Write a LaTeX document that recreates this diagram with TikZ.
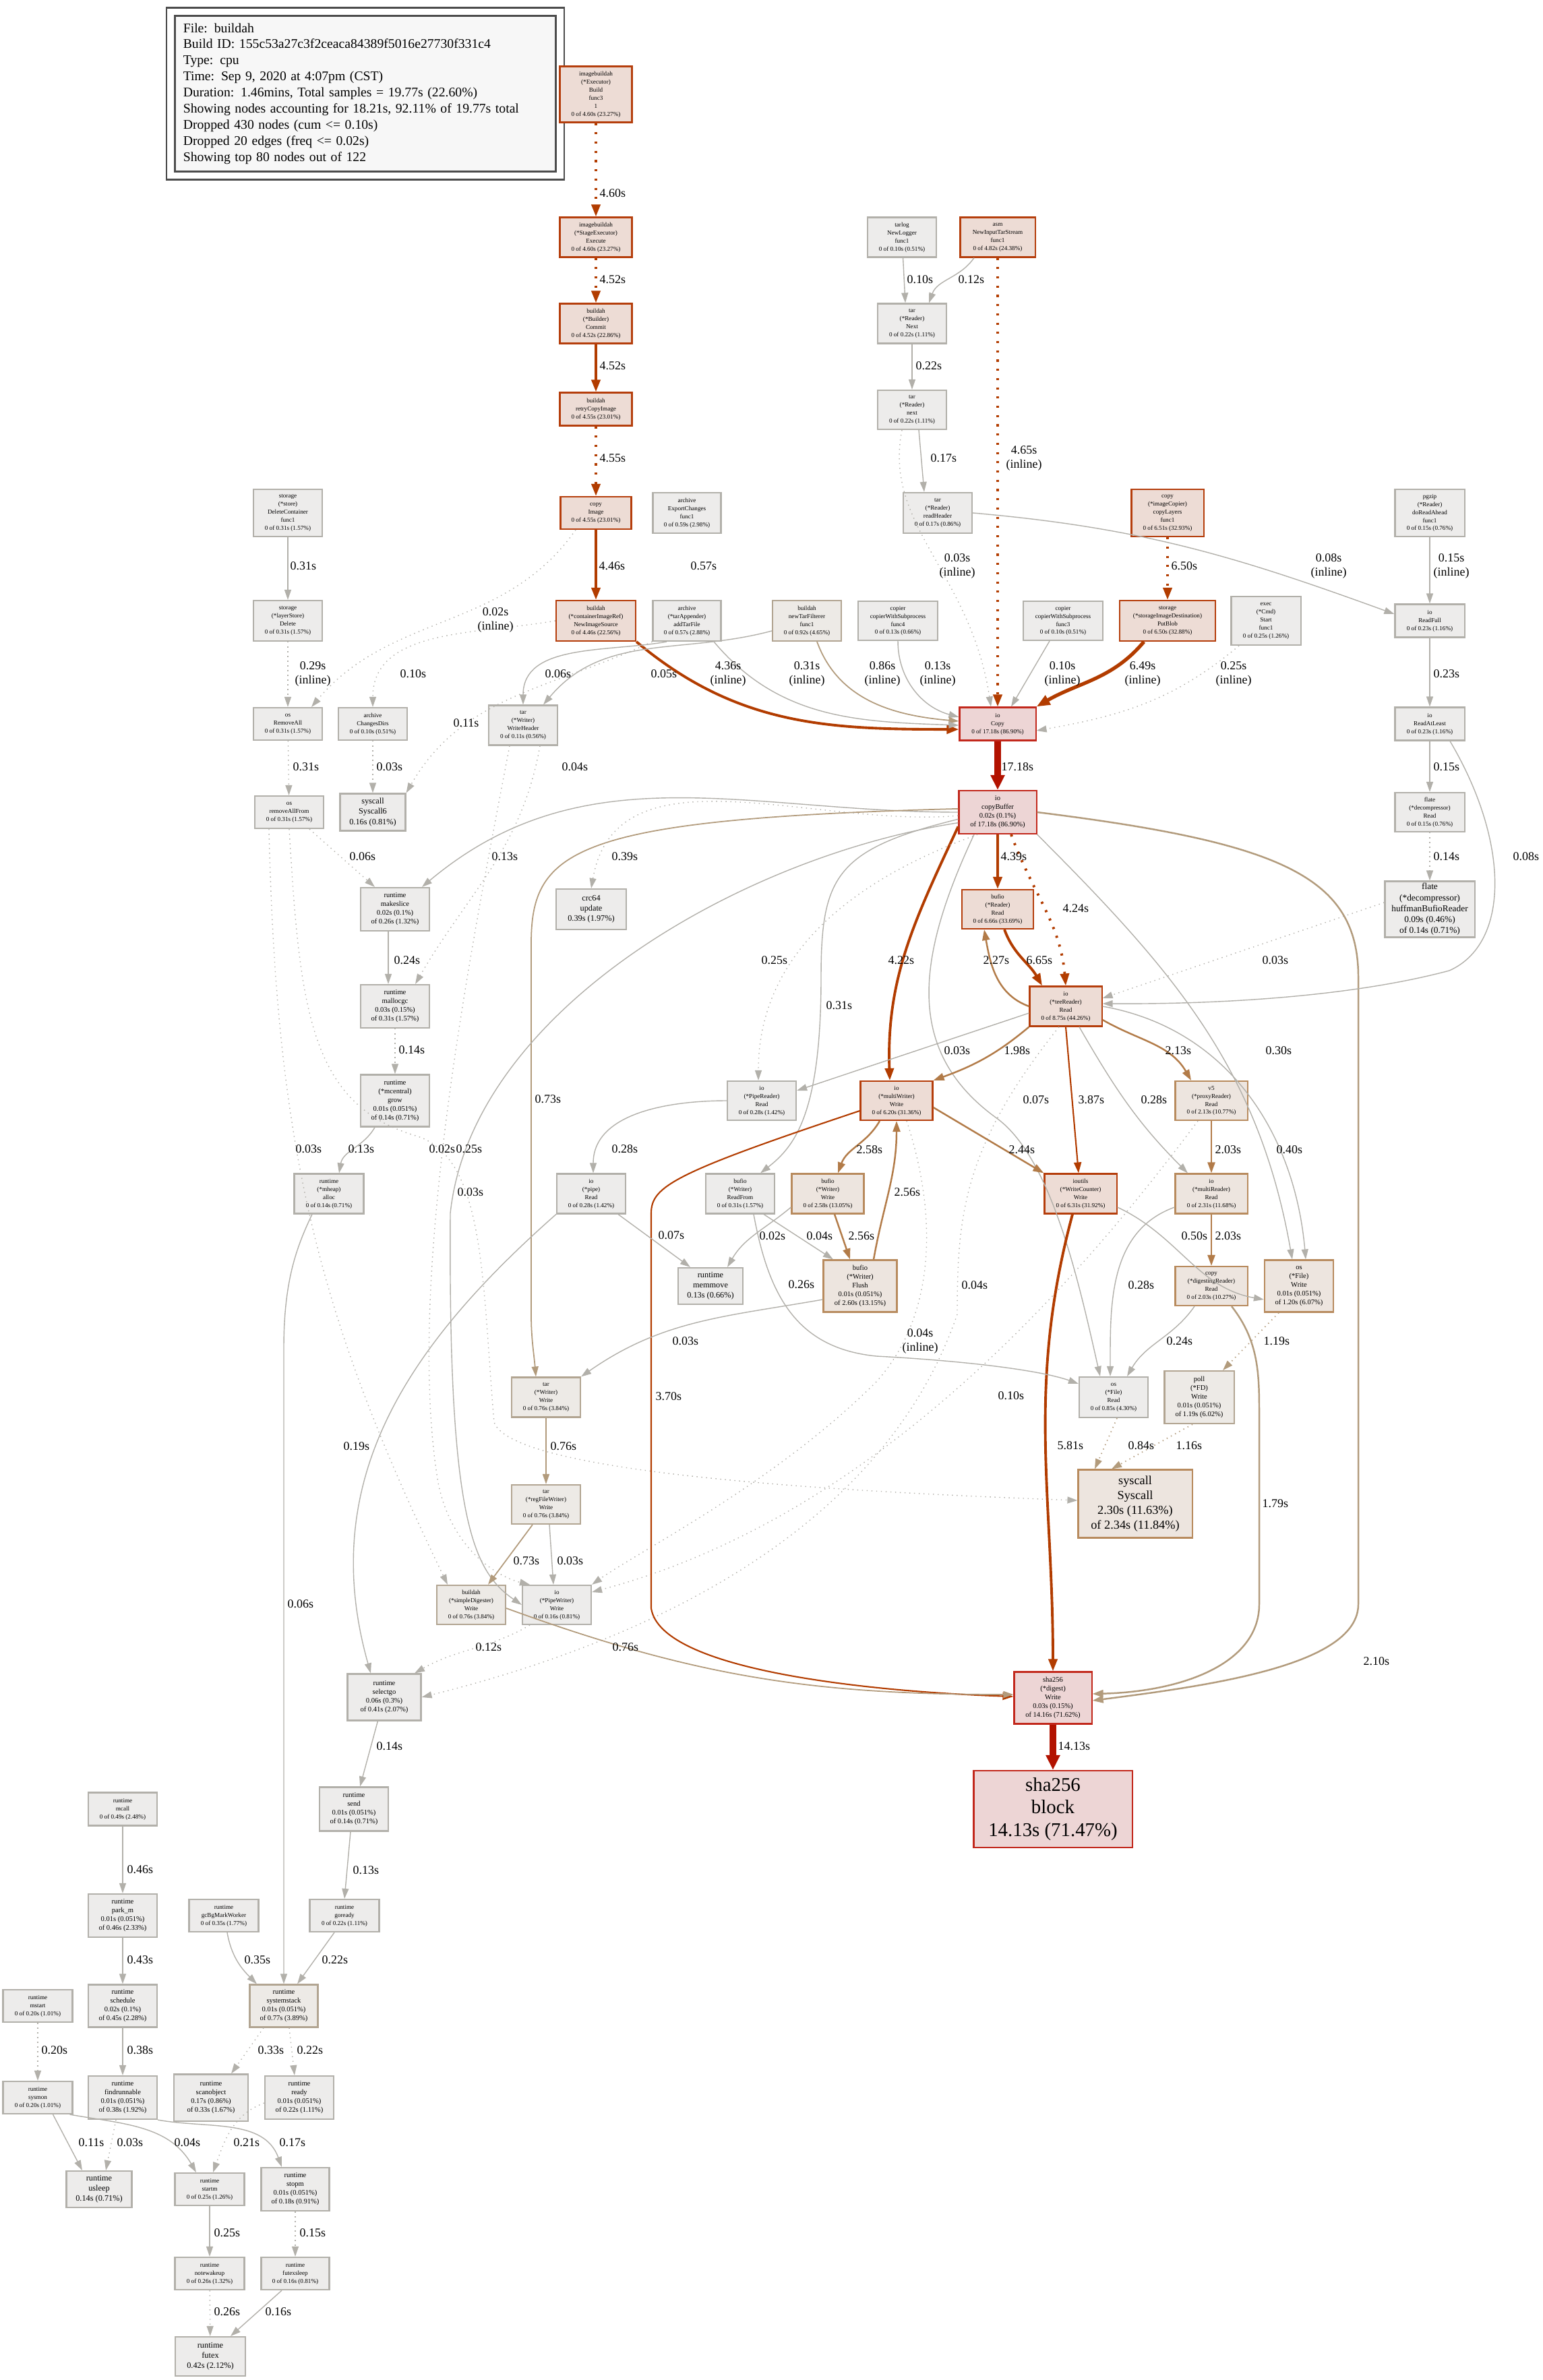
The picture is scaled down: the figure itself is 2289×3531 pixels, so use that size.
\documentclass[tikz,border=0pt]{standalone}
\usepackage{fontspec}
\setmainfont{Liberation Serif}
\usetikzlibrary{arrows.meta}
\definecolor{eRed}{HTML}{B21200}
\definecolor{eOrange}{HTML}{B23C00}
\definecolor{eTan}{HTML}{B27B48}
\definecolor{eLight}{HTML}{B29B7C}
\definecolor{eGrey}{HTML}{B2B0AA}
\definecolor{fRed}{HTML}{EDD5D5}
\definecolor{dRed}{HTML}{C2281C}
\definecolor{fOrange}{HTML}{EDDCD5}
\definecolor{dOrange}{HTML}{B53E0C}
\definecolor{fTan}{HTML}{EDE5DF}
\definecolor{dTan}{HTML}{B88B5E}
\definecolor{fBeige}{HTML}{EDEAE6}
\definecolor{dBeige}{HTML}{B2A592}
\definecolor{fGrey}{HTML}{EDECEB}
\definecolor{dGrey}{HTML}{B2B0AA}
\newcommand\fs[2]{\fontsize{#1}{#2}\selectfont}
\tikzset{
  fn/.style={draw, rectangle, inner sep=0.5pt, align=center, line width=0.6pt, font=\fs{2.6}{3.4}},
  sz/.style 2 args={minimum width=#1cm, minimum height=#2cm},
  nrd/.style={fn, fill=fRed, draw=dRed},
  nor/.style={fn, fill=fOrange, draw=dOrange},
  ntn/.style={fn, fill=fTan, draw=dTan},
  nbg/.style={fn, fill=fBeige, draw=dBeige},
  ngr/.style={fn, fill=fGrey, draw=dGrey},
  tmid/.style={font=\fs{3.0}{3.7}},
  tbig/.style={font=\fs{3.5}{4.3}},
  lbl/.style={anchor=west, inner sep=0pt, align=center, font=\fs{5.1}{6}},
  eg/.style={draw=eGrey, line width=0.4pt, -{Triangle[length=0.15cm,width=0.1cm]}},
  el/.style={draw=eLight, line width=0.5pt, -{Triangle[length=0.15cm,width=0.1cm]}},
  et/.style={draw=eTan, line width=0.7pt, -{Triangle[length=0.16cm,width=0.11cm]}},
  eo/.style={draw=eOrange, line width=1.1pt, -{Triangle[length=0.18cm,width=0.13cm]}},
  eot/.style={draw=eOrange, line width=0.6pt, -{Triangle[length=0.16cm,width=0.11cm]}},
  eo6/.style={draw=eOrange, line width=1.5pt, -{Triangle[length=0.2cm,width=0.15cm]}},
  ered/.style={draw=eRed, line width=2.6pt, -{Triangle[length=0.22cm,width=0.2cm]}},
  dot/.style={dash pattern=on 0.4pt off 1.6pt},
  odot/.style={dash pattern=on 0.9pt off 3pt},
}
\begin{document}
\begin{tikzpicture}[x=0.01cm, y=-0.01cm]
\useasboundingbox (0,0) rectangle (2289,3531);

%legend
\node[draw=black!70, fill=black!3, line width=0.8pt, minimum width=5.65cm, minimum height=2.27cm,
  text width=5.4cm, align=left, inner sep=3pt, font=\fs{5.6}{6.8}] (legend) at (542,139)
  {File: buildah\\Build ID: 155c53a27c3f2ceaca84389f5016e27730f331c4\\Type: cpu\\Time: Sep 9, 2020 at 4:07pm (CST)\\Duration: 1.46mins, Total samples = 19.77s (22.60\%)\\Showing nodes accounting for 18.21s, 92.11\% of 19.77s total\\Dropped 430 nodes (cum <= 0.10s)\\Dropped 20 edges (freq <= 0.02s)\\Showing top 80 nodes out of 122};
\path (legend.north west)+(-11,-11) node (b1) {};
\path (legend.south east)+(11,11) node (b2) {};
\path[draw=black!70, line width=0.8pt] (b1.center) rectangle (b2.center);

%nodes, top part
\node[nor, sz={1.07}{0.83}] (build) at (884,140) {imagebuildah\\(*Executor)\\Build\\func3\\1\\0 of 4.60s (23.27\%)};
\node[nor, sz={1.07}{0.59}] (stage) at (884,352) {imagebuildah\\(*StageExecutor)\\Execute\\0 of 4.60s (23.27\%)};
\node[nor, sz={1.07}{0.59}] (commit) at (884,480) {buildah\\(*Builder)\\Commit\\0 of 4.52s (22.86\%)};
\node[nor, sz={1.07}{0.49}] (retry) at (884,607) {buildah\\retryCopyImage\\0 of 4.55s (23.01\%)};
\node[nor, sz={1.05}{0.48}] (copyimg) at (884,761) {copy\\Image\\0 of 4.55s (23.01\%)};
\node[nor, sz={1.18}{0.60}] (newimgsrc) at (884,921) {buildah\\(*containerImageRef)\\NewImageSource\\0 of 4.46s (22.56\%)};
\node[ngr, sz={1.02}{0.59}] (tarlog) at (1338,352) {tarlog\\NewLogger\\func1\\0 of 0.10s (0.51\%)};
\node[nor, sz={1.11}{0.59}] (asm) at (1480,352) {asm\\NewInputTarStream\\func1\\0 of 4.82s (24.38\%)};
\node[ngr, sz={1.02}{0.59}] (tarnextU) at (1353,480) {tar\\(*Reader)\\Next\\0 of 0.22s (1.11\%)};
\node[ngr, sz={1.02}{0.58}] (tarnextL) at (1353,608) {tar\\(*Reader)\\next\\0 of 0.22s (1.11\%)};
\node[ngr, sz={1.02}{0.60}] (readhdr) at (1391,761) {tar\\(*Reader)\\readHeader\\0 of 0.17s (0.86\%)};
\node[nor, sz={1.07}{0.70}] (copylayers) at (1732,761) {copy\\(*imageCopier)\\copyLayers\\func1\\0 of 6.51s (32.93\%)};
\node[nor, sz={1.42}{0.60}] (putblob) at (1732,921) {storage\\(*storageImageDestination)\\PutBlob\\0 of 6.50s (32.88\%)};
\node[ngr, sz={1.03}{0.70}] (pgzip) at (2121,761) {pgzip\\(*Reader)\\doReadAhead\\func1\\0 of 0.15s (0.76\%)};
\node[ngr, sz={1.02}{0.70}] (delcont) at (427,761) {storage\\(*store)\\DeleteContainer\\func1\\0 of 0.31s (1.57\%)};
\node[ngr, sz={1.01}{0.60}] (exportch) at (1019,761) {archive\\ExportChanges\\func1\\0 of 0.59s (2.98\%)};
\node[ngr, sz={1.02}{0.60}] (layerdel) at (427,921) {storage\\(*layerStore)\\Delete\\0 of 0.31s (1.57\%)};
\node[ngr, sz={1.01}{0.60}] (addtar) at (1019,921) {archive\\(*tarAppender)\\addTarFile\\0 of 0.57s (2.88\%)};
\node[nbg, sz={1.02}{0.60}] (tarfilt) at (1197,921) {buildah\\newTarFilterer\\func1\\0 of 0.92s (4.65\%)};
\node[ngr, sz={1.18}{0.58}] (cpf4) at (1332,921) {copier\\copierWithSubprocess\\func4\\0 of 0.13s (0.66\%)};
\node[ngr, sz={1.18}{0.58}] (cpf3) at (1577,921) {copier\\copierWithSubprocess\\func3\\0 of 0.10s (0.51\%)};
\node[ngr, sz={1.03}{0.72}] (execstart) at (1878,921) {exec\\(*Cmd)\\Start\\func1\\0 of 0.25s (1.26\%)};
\node[ngr, sz={1.03}{0.49}] (readfull) at (2121,921) {io\\ReadFull\\0 of 0.23s (1.16\%)};
\node[nrd, sz={1.13}{0.49}] (iocopy) at (1480,1074) {io\\Copy\\0 of 17.18s (86.90\%)};
\node[ngr, sz={1.03}{0.49}] (readatleast) at (2121,1074) {io\\ReadAtLeast\\0 of 0.23s (1.16\%)};
\node[ngr, sz={1.02}{0.48}] (rmall) at (427,1074) {os\\RemoveAll\\0 of 0.31s (1.57\%)};
\node[ngr, sz={1.02}{0.48}] (chdirs) at (553,1074) {archive\\ChangesDirs\\0 of 0.10s (0.51\%)};
\node[ngr, sz={1.02}{0.59}] (wrhdr) at (776,1076) {tar\\(*Writer)\\WriteHeader\\0 of 0.11s (0.56\%)};
\node[nrd, sz={1.15}{0.64}, tmid] (copybuf) at (1480,1205) {io\\copyBuffer\\0.02s (0.1\%)\\of 17.18s (86.90\%)};
\node[ngr, sz={1.03}{0.58}] (flateread) at (2121,1205) {flate\\(*decompressor)\\Read\\0 of 0.15s (0.76\%)};
\node[ngr, sz={1.02}{0.48}] (rmallfrom) at (429,1205) {os\\removeAllFrom\\0 of 0.31s (1.57\%)};
\node[ngr, sz={0.97}{0.55}, tbig] (syscall6) at (553,1205) {syscall\\Syscall6\\0.16s (0.81\%)};

%nodes, middle part
\node[nor, sz={1.06}{0.58}] (bufrd) at (1480,1349) {bufio\\(*Reader)\\Read\\0 of 6.66s (33.69\%)};
\node[ngr, sz={1.33}{0.83}, font=\fs{3.8}{4.6}] (huff) at (2121,1349) {flate\\(*decompressor)\\huffmanBufioReader\\0.09s (0.46\%)\\of 0.14s (0.71\%)};
\node[ngr, sz={1.02}{0.64}, tmid] (makeslice) at (586,1349) {runtime\\makeslice\\0.02s (0.1\%)\\of 0.26s (1.32\%)};
\node[ngr, sz={1.04}{0.60}, tbig] (crc) at (877,1349) {crc64\\update\\0.39s (1.97\%)};
\node[ngr, sz={1.02}{0.64}, tmid] (mallocgc) at (586,1493) {runtime\\mallocgc\\0.03s (0.15\%)\\of 0.31s (1.57\%)};
\node[nor, sz={1.07}{0.59}] (tee) at (1581,1493) {io\\(*teeReader)\\Read\\0 of 8.75s (44.26\%)};
\node[ngr, sz={1.02}{0.77}, tmid] (mcentral) at (586,1633) {runtime\\(*mcentral)\\grow\\0.01s (0.051\%)\\of 0.14s (0.71\%)};
\node[ngr, sz={1.02}{0.58}] (pipereader) at (1130,1633) {io\\(*PipeReader)\\Read\\0 of 0.28s (1.42\%)};
\node[nor, sz={1.07}{0.58}] (multiw) at (1330,1633) {io\\(*multiWriter)\\Write\\0 of 6.20s (31.36\%)};
\node[ntn, sz={1.07}{0.58}] (proxy) at (1797,1633) {v5\\(*proxyReader)\\Read\\0 of 2.13s (10.77\%)};
\node[ngr, sz={1.03}{0.59}] (mheap) at (488,1771) {runtime\\(*mheap)\\alloc\\0 of 0.14s (0.71\%)};
\node[ngr, sz={1.02}{0.59}] (piperead) at (877,1771) {io\\(*pipe)\\Read\\0 of 0.28s (1.42\%)};
\node[ngr, sz={1.02}{0.59}] (readfrom) at (1098,1771) {bufio\\(*Writer)\\ReadFrom\\0 of 0.31s (1.57\%)};
\node[ntn, sz={1.07}{0.59}] (bufwrite) at (1228,1771) {bufio\\(*Writer)\\Write\\0 of 2.58s (13.05\%)};
\node[nor, sz={1.07}{0.59}] (wcounter) at (1603,1771) {ioutils\\(*WriteCounter)\\Write\\0 of 6.31s (31.92\%)};
\node[ntn, sz={1.07}{0.59}] (multir) at (1797,1771) {io\\(*multiReader)\\Read\\0 of 2.31s (11.68\%)};
\node[ngr, sz={0.96}{0.54}, tbig] (memmove) at (1054,1908) {runtime\\memmove\\0.13s (0.66\%)};
\node[ntn, sz={1.09}{0.77}, tmid] (flush) at (1276,1908) {bufio\\(*Writer)\\Flush\\0.01s (0.051\%)\\of 2.60s (13.15\%)};
\node[ntn, sz={1.07}{0.58}] (digest) at (1797,1908) {copy\\(*digestingReader)\\Read\\0 of 2.03s (10.27\%)};
\node[ntn, sz={1.02}{0.77}, tmid] (filewrite) at (1927,1908) {os\\(*File)\\Write\\0.01s (0.051\%)\\of 1.20s (6.07\%)};
\node[nbg, sz={1.02}{0.59}] (tarwrite) at (810,2073) {tar\\(*Writer)\\Write\\0 of 0.76s (3.84\%)};
\node[ngr, sz={1.02}{0.60}] (fileread) at (1652,2073) {os\\(*File)\\Read\\0 of 0.85s (4.30\%)};
\node[nbg, sz={1.03}{0.78}, tmid] (poll) at (1779,2073) {poll\\(*FD)\\Write\\0.01s (0.051\%)\\of 1.19s (6.02\%)};
\node[ntn, sz={1.69}{1.01}, font=\fs{5.2}{6.3}] (syscall) at (1684,2231) {syscall\\Syscall\\2.30s (11.63\%)\\of 2.34s (11.84\%)};
\node[nbg, sz={1.02}{0.58}] (regfile) at (810,2232) {tar\\(*regFileWriter)\\Write\\0 of 0.76s (3.84\%)};
\node[nbg, sz={1.02}{0.58}] (simpledig) at (699,2381) {buildah\\(*simpleDigester)\\Write\\0 of 0.76s (3.84\%)};
\node[ngr, sz={1.02}{0.58}] (pipewrite) at (826,2381) {io\\(*PipeWriter)\\Write\\0 of 0.16s (0.81\%)};
\node[ngr, sz={1.09}{0.69}, tmid] (selectgo) at (570,2518) {runtime\\selectgo\\0.06s (0.3\%)\\of 0.41s (2.07\%)};
\node[nrd, sz={1.15}{0.77}, tmid] (shawrite) at (1562,2519) {sha256\\(*digest)\\Write\\0.03s (0.15\%)\\of 14.16s (71.62\%)};
\node[ngr, sz={1.02}{0.65}, tmid] (send) at (525,2684) {runtime\\send\\0.01s (0.051\%)\\of 0.14s (0.71\%)};
\node[nrd, sz={2.35}{1.14}, font=\fs{8.2}{9.6}] (block) at (1562,2684) {sha256\\block\\14.13s (71.47\%)};

%nodes, runtime part
\node[ngr, sz={1.02}{0.49}] (mcall) at (182,2684) {runtime\\mcall\\0 of 0.49s (2.48\%)};
\node[ngr, sz={1.02}{0.64}, tmid] (parkm) at (182,2842) {runtime\\park\_m\\0.01s (0.051\%)\\of 0.46s (2.33\%)};
\node[ngr, sz={1.03}{0.48}] (gcbg) at (332,2842) {runtime\\gcBgMarkWorker\\0 of 0.35s (1.77\%)};
\node[ngr, sz={1.03}{0.48}] (goready) at (511,2842) {runtime\\goready\\0 of 0.22s (1.11\%)};
\node[ngr, sz={1.02}{0.63}, tmid] (schedule) at (182,2976) {runtime\\schedule\\0.02s (0.1\%)\\of 0.45s (2.28\%)};
\node[ngr, sz={1.03}{0.48}] (mstart) at (56,2976) {runtime\\mstart\\0 of 0.20s (1.01\%)};
\node[nbg, sz={1.01}{0.63}, tmid] (systack) at (421,2976) {runtime\\systemstack\\0.01s (0.051\%)\\of 0.77s (3.89\%)};
\node[ngr, sz={1.02}{0.64}, tmid] (findrun) at (182,3112) {runtime\\findrunnable\\0.01s (0.051\%)\\of 0.38s (1.92\%)};
\node[ngr, sz={1.03}{0.48}] (sysmon) at (56,3112) {runtime\\sysmon\\0 of 0.20s (1.01\%)};
\node[ngr, sz={1.10}{0.69}, tmid] (scanobj) at (313,3112) {runtime\\scanobject\\0.17s (0.86\%)\\of 0.33s (1.67\%)};
\node[ngr, sz={1.02}{0.64}, tmid] (ready) at (444,3112) {runtime\\ready\\0.01s (0.051\%)\\of 0.22s (1.11\%)};
\node[ngr, sz={0.97}{0.54}, tbig] (usleep) at (147,3248) {runtime\\usleep\\0.14s (0.71\%)};
\node[ngr, sz={1.03}{0.48}] (startm) at (311,3248) {runtime\\startm\\0 of 0.25s (1.26\%)};
\node[ngr, sz={1.01}{0.64}, tmid] (stopm) at (438,3248) {runtime\\stopm\\0.01s (0.051\%)\\of 0.18s (0.91\%)};
\node[ngr, sz={1.03}{0.48}] (notewake) at (311,3373) {runtime\\notewakeup\\0 of 0.26s (1.32\%)};
\node[ngr, sz={1.01}{0.48}] (futexsleep) at (438,3373) {runtime\\futexsleep\\0 of 0.16s (0.81\%)};
\node[ngr, sz={1.04}{0.58}, tbig] (futex) at (312,3496) {runtime\\futex\\0.42s (2.12\%)};

%edges, top part
\draw[eo, odot] (build) -- (stage);
\draw[eo, odot] (stage) -- (commit);
\draw[eo] (commit) -- (retry);
\draw[eo, odot] (retry) -- (copyimg);
\draw[eo] (copyimg) -- (newimgsrc);
\draw[eo] (newimgsrc.south east) to[out=-40,in=180] (iocopy.188);
\draw[eg] (tarlog) -- ([xshift=-0.1cm]tarnextU.north);
\draw[eg] ([xshift=-0.35cm]asm.south) to[out=-125,in=70] ([xshift=0.25cm]tarnextU.north);
\draw[eo, odot] (asm) -- (iocopy);
\draw[eg] (tarnextU) -- (tarnextL);
\draw[eg] ([xshift=0.1cm]tarnextL.south) -- ([xshift=-0.2cm]readhdr.north);
\draw[eg, dot] ([xshift=-0.15cm]tarnextL.south) .. controls (1310,780) and (1440,850) .. ([xshift=-0.1cm]iocopy.north);
\draw[eg] (readhdr.east) to[out=-5,in=160] ([yshift=0.1cm]readfull.west);
\draw[eo, odot] (copylayers) -- (putblob);
\draw[eo6] ([xshift=-0.35cm]putblob.south) to[out=-130,in=30] (iocopy.north east);
\draw[eg, dot] ([xshift=-0.4cm]execstart.south) to[out=-140,in=10] ([yshift=-0.1cm]iocopy.east);
\draw[eg] ([xshift=-0.2cm]cpf3.south) -- ([xshift=0.2cm]iocopy.north);
\draw[eg] (cpf4.south) to[out=-90,in=165] (iocopy.170);
\draw[el] ([xshift=0.15cm]tarfilt.south) to[out=-70,in=175] (iocopy.176);
\draw[eg] ([xshift=0.4cm]addtar.south) to[out=-50,in=178] (iocopy.182);
\draw[eg] ([yshift=-0.15cm]tarfilt.west) to[out=195,in=50] ([xshift=0.3cm]wrhdr.north);
\draw[eg] ([xshift=-0.3cm]addtar.south) to[out=190,in=90] (wrhdr.north);
\draw[eg, dot] (addtar.south west) to[out=205,in=60] (syscall6.north east);
\draw[eg, dot] (newimgsrc.west) to[out=190,in=90] (chdirs.north);
\draw[eg, dot] ([xshift=-0.3cm]copyimg.south) to[out=-125,in=50] ([xshift=0.35cm]rmall.north);
\draw[eg] (delcont) -- (layerdel);
\draw[eg, dot] (layerdel) -- (rmall);
\draw[eg, dot] (rmall) -- (rmallfrom);
\draw[eg, dot] (chdirs) -- (syscall6);
\draw[eg, dot] ([xshift=0.3cm]rmallfrom.south) -- ([xshift=-0.3cm]makeslice.north);
\draw[eg, dot] (rmallfrom.south) .. controls (445,1500) and (460,1640) .. (620,1686) .. controls (720,1720) and (715,1900) .. (733,2110) .. controls (760,2190) and (1300,2215) .. ([yshift=0.05cm]syscall.west);
\draw[eg, dot] ([xshift=-0.3cm]rmallfrom.south) .. controls (410,1700) and (470,1950) .. ([xshift=-0.35cm]simpledig.north);
\draw[eg, dot] ([xshift=0.25cm]wrhdr.south) to[out=-100,in=60] ([xshift=0.3cm]mallocgc.north);
\draw[eg, dot] ([xshift=-0.2cm]wrhdr.south) .. controls (700,1400) and (600,1900) .. (650,2200) .. controls (670,2300) and (740,2340) .. ([xshift=-0.4cm]pipewrite.north);

%edges, copyBuffer
\draw[ered] (iocopy) -- (copybuf);
\draw[eo] (copybuf) -- (bufrd);
\draw[eo, odot] ([xshift=0.2cm]copybuf.south) to[out=-70,in=95] (tee.north);
\draw[eo] (copybuf.200) to[out=-115,in=92] ([xshift=-0.1cm]multiw.north);
\draw[eg] (copybuf.west) to[out=180,in=40] ([xshift=0.4cm]makeslice.north);
\draw[el] (copybuf.175) .. controls (850,1215) and (788,1260) .. (788,1400) -- (788,1950) to[out=-90,in=95] ([xshift=-0.15cm]tarwrite.north);
\draw[eg, dot] (copybuf.185) to[out=185,in=80] (crc.north);
\draw[eg, dot] ([xshift=-0.3cm]copybuf.south) to[out=200,in=90] ([xshift=-0.05cm]pipereader.north);
\draw[eg] (copybuf.190) .. controls (1240,1260) and (1218,1300) .. (1218,1450) .. controls (1218,1650) and (1180,1700) .. ([xshift=0.3cm]readfrom.north);
\draw[eg] (copybuf.195) .. controls (1100,1270) and (700,1500) .. (668,1800) .. controls (665,2250) and (700,2330) .. (pipewrite.west);
\draw[eg] ([xshift=-0.35cm]copybuf.south) .. controls (1360,1420) and (1340,1560) .. (1480,1660) .. controls (1560,1720) and (1600,1900) .. ([xshift=-0.2cm]fileread.north);
\draw[eg] (copybuf.south east) to[out=-45,in=100] ([xshift=-0.1cm]filewrite.north);
\draw[et, draw=eLight] (copybuf.east) .. controls (1900,1250) and (2015,1300) .. (2015,1450) -- (2015,2380) .. controls (2015,2470) and (1800,2500) .. ([yshift=-0.04cm]shawrite.east);

%edges, readers and writers
\draw[eo] ([xshift=0.1cm]bufrd.south) to[out=-70,in=120] ([xshift=-0.35cm]tee.north);
\draw[et] (tee.west) to[out=160,in=-80] ([xshift=-0.2cm]bufrd.south);
\draw[et] (tee.south west) to[out=-140,in=20] (multiw.north east);
\draw[eg] ([yshift=-0.1cm]tee.west) -- ([yshift=0.15cm]pipereader.east);
\draw[eot] (tee.south) -- ([xshift=-0.03cm]wcounter.north);
\draw[et] ([yshift=-0.2cm]tee.east) to[out=-30,in=120] ([xshift=-0.3cm]proxy.north);
\draw[eg] ([xshift=0.2cm]tee.south) to[out=-60,in=135] ([xshift=-0.35cm]multir.north);
\draw[eg] (tee.east) to[out=-10,in=95] ([xshift=0.1cm]filewrite.north);
\draw[eg, dot] ([xshift=-0.1cm]tee.south) .. controls (1430,1700) and (1420,1800) .. (1420,1950) .. controls (1300,2300) and (900,2450) .. (selectgo.east);
\draw[eg, dot] ([xshift=0.15cm]multiw.south) .. controls (1390,1800) and (1390,1950) .. (1300,2050) .. controls (1150,2200) and (950,2300) .. (pipewrite.north east);
\draw[eg, dot] ([xshift=-0.2cm]proxy.south) .. controls (1600,1900) and (1300,2250) .. (pipewrite.20);
\draw[et] ([xshift=-0.25cm]multiw.south) to[out=-120,in=70] ([xshift=0.15cm]bufwrite.north);
\draw[et] ([xshift=0.1cm]bufwrite.south) -- ([xshift=-0.15cm]flush.north);
\draw[et] ([xshift=0.2cm]flush.north) to[out=80,in=-90] (multiw.south);
\draw[et] ([yshift=-0.1cm]multiw.east) -- (wcounter.north west);
\draw[eot] ([yshift=-0.15cm]multiw.west) .. controls (1000,1740) and (966,1760) .. (966,1800) -- (966,2386) .. controls (980,2480) and (1300,2510) .. ([yshift=0.02cm]shawrite.west);
\draw[el] ([yshift=-0.05cm]simpledig.east) to[out=-20,in=180] ([yshift=0.05cm]shawrite.west);
\draw[eo] ([xshift=-0.12cm]wcounter.south) to[out=-105,in=90] (shawrite.north);
\draw[eg] ([yshift=-0.2cm]wcounter.east) to[out=-25,in=170] ([yshift=-0.2cm]filewrite.west);
\draw[et] (proxy) -- (multir);
\draw[et] (multir) -- (digest);
\draw[eg] ([yshift=-0.2cm]multir.west) to[out=200,in=90] ([xshift=-0.05cm]fileread.north);
\draw[eg] ([xshift=-0.25cm]digest.south) to[out=-125,in=60] ([xshift=0.2cm]fileread.north);
\draw[et, draw=eLight] ([xshift=0.3cm]digest.south) .. controls (1868,1990) and (1868,2040) .. (1868,2100) -- (1868,2380) .. controls (1868,2470) and (1750,2510) .. ([yshift=0.06cm]shawrite.east);
\draw[el, dot] ([xshift=-0.3cm]filewrite.south) -- ([xshift=0.35cm]poll.north);
\draw[el, dot] ([xshift=0.05cm]fileread.south) -- ([xshift=-0.6cm]syscall.north);
\draw[el, dot] ([xshift=-0.1cm]poll.south) -- ([xshift=-0.35cm]syscall.north);
\draw[ered] (shawrite) -- (block);
\draw[eg] (pipereader.west) to[out=180,in=90] ([xshift=0.03cm]piperead.north);
\draw[eg] ([xshift=0.4cm]piperead.south) -- ([xshift=-0.3cm]memmove.north);
\draw[eg] (piperead.south west) .. controls (600,2000) and (470,2200) .. ([xshift=-0.2cm]selectgo.north);
\draw[eg] ([xshift=0.35cm]readfrom.south) -- ([xshift=-0.4cm]flush.north);
\draw[eg] ([xshift=0.2cm]readfrom.south) .. controls (1140,1920) and (1180,2000) .. (1300,2012) .. controls (1450,2020) and (1550,2035) .. ([yshift=0.2cm]fileread.west);
\draw[eg] ([yshift=-0.2cm]bufwrite.west) to[out=-140,in=60] ([xshift=0.25cm]memmove.north);
\draw[eg] ([yshift=-0.2cm]flush.west) to[out=190,in=35] (tarwrite.north east);
\draw[el] (tarwrite) -- (regfile);
\draw[el] ([xshift=-0.2cm]regfile.south) -- ([xshift=0.25cm]simpledig.north);
\draw[eg] ([xshift=0.05cm]regfile.south) -- ([xshift=-0.05cm]pipewrite.north);
\draw[eg, dot] ([xshift=-0.4cm]pipewrite.south) to[out=-150,in=30] ([xshift=0.45cm]selectgo.north);
\draw[eg] (selectgo) -- (send);
\draw[eg] ([xshift=-0.05cm]send.south) -- (goready.north);
\draw[eg] ([xshift=-0.25cm]mheap.south) .. controls (440,1850) and (421,1900) .. (421,2000) -- (systack.north);
\draw[eg] ([xshift=-0.3cm]mcentral.south) to[out=-120,in=80] ([xshift=0.15cm]mheap.north);
\draw[eg] ([xshift=-0.1cm]makeslice.south) -- ([xshift=-0.1cm]mallocgc.north);
\draw[eg, dot] (mallocgc) -- (mcentral);
\draw[eg, dot] ([yshift=0.1cm]huff.west) -- ([yshift=0.12cm]tee.east);
\draw[eg] ([xshift=0.3cm]readatleast.south) .. controls (2240,1250) and (2240,1400) .. (2150,1440) .. controls (2000,1480) and (1800,1490) .. ([yshift=0.04cm]tee.east);
\draw[eg] (pgzip) -- (readfull);
\draw[eg] (readfull) -- (readatleast);
\draw[eg] (readatleast) -- (flateread);
\draw[eg, dot] (flateread) -- (huff);

%edges, runtime part
\draw[eg] ([xshift=0.05cm]gcbg.south) to[out=-80,in=135] ([xshift=-0.4cm]systack.north);
\draw[eg] ([xshift=-0.15cm]goready.south) -- ([xshift=0.2cm]systack.north);
\draw[eg, dot] ([xshift=-0.3cm]systack.south) -- ([xshift=0.3cm]scanobj.north);
\draw[eg, dot] ([xshift=0.08cm]systack.south) -- ([xshift=-0.07cm]ready.north);
\draw[eg] (mcall) -- (parkm);
\draw[eg] (parkm) -- (schedule);
\draw[eg] (schedule) -- (findrun);
\draw[eg, dot] (mstart) -- (sysmon);
\draw[eg] ([xshift=-0.3cm]sysmon.south east) -- ([xshift=-0.25cm]usleep.north);
\draw[eg, dot] ([xshift=-0.1cm]findrun.south) -- ([xshift=0.1cm]usleep.north);
\draw[eg] ([xshift=-0.05cm]sysmon.south east) to[out=-10,in=120] ([xshift=-0.2cm]startm.north);
\draw[eg, dot] ([yshift=0.25cm]ready.south west) to[out=200,in=70] ([xshift=0.05cm]startm.north);
\draw[eg] (findrun.south east) to[out=-10,in=110] ([xshift=-0.2cm]stopm.north);
\draw[eg] (startm) -- (notewake);
\draw[eg, dot] (stopm) -- (futexsleep);
\draw[eg, dot] (notewake) -- (futex);
\draw[eg] ([xshift=-0.2cm]futexsleep.south) -- ([xshift=0.3cm]futex.north);

%edge labels
\foreach \t/\x/\y in {4.60s/889/287, 4.52s/889/415, 4.52s/889/543, 4.55s/889/680, 4.46s/888/840,
  0.10s/1345/415, 0.12s/1421/415, 0.22s/1358/543, 0.17s/1380/680,
  0.31s/430/840, 0.57s/1024/840, 6.50s/1737/840, 0.10s/593/1000, 0.06s/808/1000, 0.05s/965/1000,
  0.23s/2126/1000, 0.31s/434/1138, 0.03s/558/1138, 0.11s/672/1073, 0.04s/833/1138, 17.18s/1485/1138,
  0.15s/2126/1138, 0.06s/518/1271, 0.13s/729/1271, 0.39s/907/1271, 4.39s/1484/1271, 0.14s/2126/1271,
  0.08s/2244/1271, 4.24s/1576/1348, 0.24s/584/1425, 0.25s/1129/1425, 4.22s/1317/1425, 2.27s/1458/1425,
  6.65s/1522/1425, 0.03s/1872/1425, 0.31s/1225/1492, 0.14s/591/1558, 0.03s/1400/1559, 1.98s/1489/1559,
  2.13s/1728/1559, 0.30s/1877/1559, 0.73s/793/1631, 0.07s/1517/1632, 3.87s/1599/1632, 0.28s/1692/1632,
  0.03s/438/1705, 0.13s/516/1705, 0.02s/636/1705, 0.25s/676/1705, 0.28s/907/1705, 2.58s/1270/1706,
  2.44s/1496/1706, 2.03s/1802/1706, 0.40s/1893/1706, 0.03s/678/1769, 2.56s/1326/1769,
  0.07s/976/1833, 0.02s/1126/1834, 0.04s/1196/1834, 2.56s/1258/1834, 0.50s/1752/1834, 2.03s/1802/1834,
  0.26s/1169/1906, 0.04s/1426/1907, 0.28s/1673/1907, 0.03s/997/1990, 0.24s/1730/1990, 1.19s/1874/1990,
  3.70s/972/2072, 0.10s/1480/2071, 0.19s/509/2146, 0.76s/816/2146, 5.81s/1568/2145, 0.84s/1673/2145,
  1.16s/1744/2145, 1.79s/1872/2231, 2.10s/2022/2465, 0.73s/761/2316, 0.03s/826/2316, 0.06s/426/2380,
  0.12s/705/2444, 0.76s/908/2444, 0.14s/558/2591, 14.13s/1569/2591, 0.13s/523/2775,
  0.46s/188/2774, 0.43s/188/2908, 0.35s/362/2908, 0.22s/477/2908, 0.20s/61/3042, 0.38s/188/3042,
  0.33s/382/3042, 0.22s/440/3042, 0.11s/116/3179, 0.03s/173/3179, 0.04s/258/3179, 0.21s/346/3179,
  0.17s/414/3179, 0.25s/317/3313, 0.15s/444/3313, 0.26s/317/3430, 0.16s/393/3430}
  \node[lbl] at (\x,\y) {\t};
\foreach \t/\x/\y in {4.65s/1492/680, 0.02s/708/920, 0.29s/437/1000, 4.36s/1053/1000, 0.31s/1170/1000,
  0.86s/1282/1000, 0.13s/1364/1000, 0.10s/1549/1000, 6.49s/1668/1000, 0.25s/1803/1000,
  0.03s/1393/840, 0.08s/1944/840, 0.15s/2126/840, 0.04s/1338/1990}
  \node[lbl] at (\x,\y) {\t\\(inline)};
\end{tikzpicture}
\end{document}
